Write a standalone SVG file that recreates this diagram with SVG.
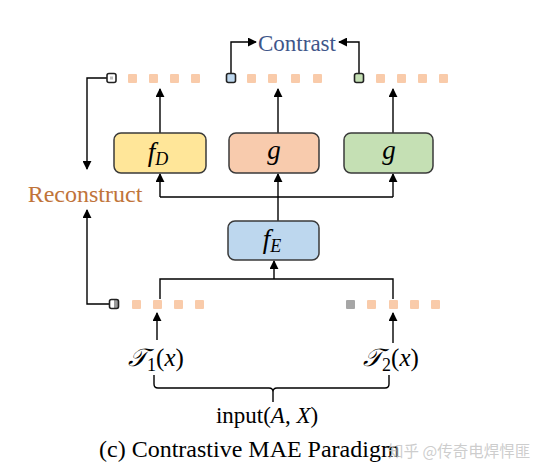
<svg xmlns="http://www.w3.org/2000/svg" width="550" height="475" viewBox="0 0 550 475">
<defs>
<marker id="ah" viewBox="0 0 10 10" refX="9" refY="5" markerWidth="9" markerHeight="9" markerUnits="userSpaceOnUse" orient="auto">
<path d="M0,0 L10,5 L0,10 Z" fill="#000"/>
</marker>
</defs>
<style>
.tok{fill:#F9CBAA;}
.box{stroke:#3a3a3a;stroke-width:1.5;}
.sp{stroke:#222;stroke-width:1.6;}
.ln{fill:none;stroke:#000;stroke-width:1.4;}
.math{font-family:"Liberation Serif","DejaVu Serif",serif;font-style:italic;fill:#000;}
.rm{font-family:"Liberation Serif","DejaVu Serif",serif;fill:#000;}
</style>
<rect width="550" height="475" fill="#fff"/>
<g id="connectors">
<polyline class="ln" points="160,133 160,89" marker-end="url(#ah)"/>
<polyline class="ln" points="278,133 278,89" marker-end="url(#ah)"/>
<polyline class="ln" points="393,133 393,89" marker-end="url(#ah)"/>
<polyline class="ln" points="160,197 393,197"/>
<polyline class="ln" points="160,197 160,174" marker-end="url(#ah)"/>
<polyline class="ln" points="393,197 393,174" marker-end="url(#ah)"/>
<polyline class="ln" points="278,221 278,174" marker-end="url(#ah)"/>
<polyline class="ln" points="160,299 160,279 393,279 393,299"/>
<polyline class="ln" points="274,279 274,261" marker-end="url(#ah)"/>
<polyline class="ln" points="157,340 157,313" marker-end="url(#ah)"/>
<polyline class="ln" points="393,343 393,313" marker-end="url(#ah)"/>
<polyline class="ln" points="231,73 231,42 256,42" marker-end="url(#ah)"/>
<polyline class="ln" points="359,73 359,42 339,42" marker-end="url(#ah)"/>
<polyline class="ln" points="107,78 87,78 87,169" marker-end="url(#ah)"/>
<polyline class="ln" points="109,304 87,304 87,210" marker-end="url(#ah)"/>
<path class="ln" d="M154,375 V384 Q154,388 158,388 H269 Q273,388 273,392 V402 M273,392 Q273,388 277,388 H385 Q389,388 389,384 V375"/>
</g>
<g id="tokens-top">
<rect class="sp" x="107" y="73.5" width="9" height="9" rx="2" fill="#fff"/>
<rect x="110" y="76.5" width="3" height="3" fill="#bbb"/>
<rect class="tok" x="128" y="74" width="9" height="9" rx="1"/>
<rect class="tok" x="149" y="74" width="9" height="9" rx="1"/>
<rect class="tok" x="170" y="74" width="9" height="9" rx="1"/>
<rect class="tok" x="191" y="74" width="9" height="9" rx="1"/>
<rect class="sp" x="226.5" y="73.5" width="9" height="9" rx="2" fill="#BDD7EE"/>
<rect class="tok" x="247" y="74" width="9" height="9" rx="1"/>
<rect class="tok" x="268" y="74" width="9" height="9" rx="1"/>
<rect class="tok" x="291" y="74" width="9" height="9" rx="1"/>
<rect class="tok" x="313" y="74" width="9" height="9" rx="1"/>
<rect class="sp" x="354.5" y="73.5" width="9" height="9" rx="2" fill="#C5E0B4"/>
<rect class="tok" x="376" y="74" width="9" height="9" rx="1"/>
<rect class="tok" x="397" y="74" width="9" height="9" rx="1"/>
<rect class="tok" x="418" y="74" width="9" height="9" rx="1"/>
<rect class="tok" x="439" y="74" width="9" height="9" rx="1"/>
</g>
<g id="tokens-bottom">
<rect x="109.5" y="299.5" width="4.5" height="9" fill="#fff"/>
<rect x="114" y="299.5" width="4.5" height="9" fill="#999"/>
<rect class="sp" x="109.5" y="299.5" width="9" height="9" rx="2" fill="none"/>
<rect class="tok" x="132" y="300" width="9" height="9" rx="1"/>
<rect class="tok" x="153" y="300" width="9" height="9" rx="1"/>
<rect class="tok" x="174" y="300" width="9" height="9" rx="1"/>
<rect class="tok" x="195" y="300" width="9" height="9" rx="1"/>
<rect x="346" y="300" width="9" height="9" rx="1" fill="#A6A6A6"/>
<rect class="tok" x="367" y="300" width="9" height="9" rx="1"/>
<rect class="tok" x="389" y="300" width="9" height="9" rx="1"/>
<rect class="tok" x="410" y="300" width="9" height="9" rx="1"/>
<rect class="tok" x="431" y="300" width="9" height="9" rx="1"/>
</g>
<g id="fD">
<rect class="box" x="114" y="133" width="92" height="40" rx="7" fill="#FFE699"/>
<text class="math" x="158" y="161" font-size="27" text-anchor="middle">f<tspan font-size="18" dy="4">D</tspan></text>
</g>
<g id="g1">
<rect class="box" x="229" y="133" width="90" height="40" rx="7" fill="#F8CBAD"/>
<text class="math" x="274" y="159" font-size="27" text-anchor="middle">g</text>
</g>
<g id="g2">
<rect class="box" x="344" y="133" width="89" height="40" rx="7" fill="#C5E0B4"/>
<text class="math" x="389" y="159" font-size="27" text-anchor="middle">g</text>
</g>
<g id="fE">
<rect class="box" x="228" y="221" width="91" height="39" rx="7" fill="#BDD7EE"/>
<text class="math" x="272" y="248" font-size="27" text-anchor="middle">f<tspan font-size="18" dy="4">E</tspan></text>
</g>
<g id="contrast">
<text class="rm" x="297" y="51" font-size="23" text-anchor="middle" style="fill:#3F568A">Contrast</text>
</g>
<g id="reconstruct">
<text class="rm" x="85" y="202" font-size="24" text-anchor="middle" style="fill:#C0743A">Reconstruct</text>
</g>
<g id="T1">
<text class="math" x="156" y="366" font-size="25" text-anchor="middle">𝒯<tspan font-style="normal" font-size="18" dy="5">1</tspan><tspan dy="-5" font-style="normal">(</tspan>x<tspan font-style="normal">)</tspan></text>
</g>
<g id="T2">
<text class="math" x="391" y="366" font-size="25" text-anchor="middle">𝒯<tspan font-style="normal" font-size="18" dy="5">2</tspan><tspan dy="-5" font-style="normal">(</tspan>x<tspan font-style="normal">)</tspan></text>
</g>
<g id="input">
<text class="rm" x="267" y="423" font-size="23" text-anchor="middle">input(<tspan font-style="italic">A</tspan>, <tspan font-style="italic">X</tspan>)</text>
</g>
<text class="rm" x="99" y="457" font-size="24">(c) Contrastive MAE Paradigm</text>
<text x="388" y="457" font-size="15.5" font-family="'Noto Sans CJK SC',sans-serif" fill="#c4c4c4" fill-opacity="0.85">知乎 @传奇电焊悍匪</text>
</svg>
